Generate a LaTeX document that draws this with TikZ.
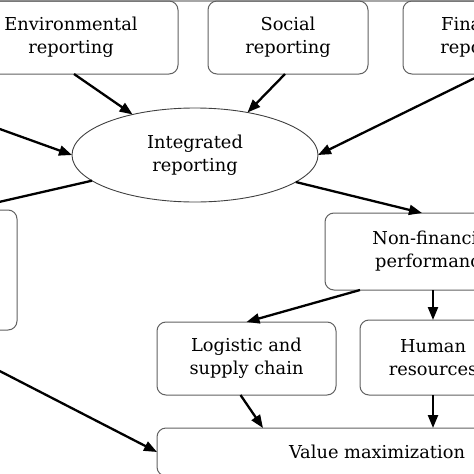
\documentclass[tikz,border=0pt]{standalone}
\usepackage{fontspec}
\setmainfont{DejaVu Serif}
\usetikzlibrary{arrows.meta,shapes.geometric,calc}
\begin{document}
\begin{tikzpicture}[x=1pt,y=-1pt,
  box/.style={draw=black!62, line width=1pt, rounded corners=9pt, align=center,
    inner sep=0pt, outer sep=0pt, font=\fontsize{17.8}{23}\selectfont},
  ellbox/.style={ellipse, draw=black!75, line width=0.9pt, align=center,
    inner sep=0pt, outer sep=0pt, minimum width=246pt, minimum height=94pt,
    font=\fontsize{17.8}{23}\selectfont},
  arr/.style={line width=2.3pt, -{Triangle[length=13pt,width=10pt]}}]
\useasboundingbox (0,0) rectangle (474,474);
\draw[black!35, line width=1.6pt] (0,0.8) -- (474,0.8);

\node[box, minimum width=214pt, minimum height=73pt] (env) at (71,37.5) {Environmental\\reporting};
\node[box, minimum width=160pt, minimum height=73pt] (soc) at (288,37.5) {Social\\reporting};
\node[box, minimum width=160pt, minimum height=73pt] (fin) at (483,37.5) {Financial\\reporting};
\node[ellbox] (ell) at (195,155) {Integrated\\reporting};
\node[box, minimum width=194pt, minimum height=120pt] (lb) at (-80,270) {};
\node[box, minimum width=216pt, minimum height=77pt] (nf) at (433,251.5) {Non-financial\\performance};
\node[box, minimum width=179pt, minimum height=73pt] (log) at (246.5,358.5) {Logistic and\\supply chain};
\node[box, minimum width=146pt, minimum height=75pt] (hr) at (433,357.5) {Human\\resources};
\node[box, minimum width=440pt, minimum height=48pt] (val) at (377,452) {Value maximization};
\coordinate (src) at (-153,74);

\draw[arr] ($(env.south)+(3,0)$) -- (ell.147);
\draw[arr] ($(soc.south)+(-3,0)$) -- (ell.39);
\draw[arr] (fin.south) -- (ell.east);
\draw[arr] (src) -- (ell.west);
\draw[arr] (ell.194.5) -- ($(lb.north)+(44,0)$);
\draw[arr] (ell.345) -- ($(nf.north)+(-11,0)$);
\draw[arr] ($(nf.south)+(-73,0)$) -- (log.north);
\draw[arr] (nf.south) -- (hr.north);
\draw[arr] ($(log.south)+(-6,0)$) -- ($(val.north)+(-114,0)$);
\draw[arr] (hr.south) -- ($(val.north)+(56,0)$);
\draw[arr] (lb.south) -- (val.west);
\end{tikzpicture}
\end{document}
